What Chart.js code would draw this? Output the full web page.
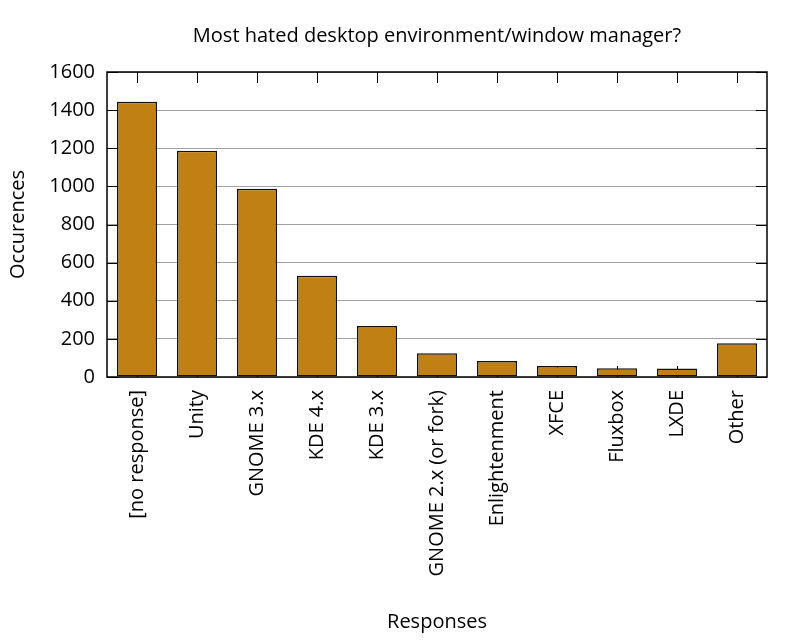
<!DOCTYPE html>
<html>
<head>
<meta charset="utf-8">
<script src="https://cdn.jsdelivr.net/npm/chart.js@4/dist/chart.umd.min.js"></script>
<style>
    html, body { margin: 0; padding: 0; background: #fff; }
</style>
</head>
<body>
<canvas id="chart" width="800" height="640"></canvas>
<script>
const categories = ['[no response]', 'Unity', 'GNOME 3.x', 'KDE 4.x', 'KDE 3.x', 'GNOME 2.x (or fork)', 'Enlightenment', 'XFCE', 'Fluxbox', 'LXDE', 'Other'];
const occurences = [1444, 1187, 988, 531, 268, 124, 84, 58, 46, 44, 177];
const yMin = 0;
const yMax = 1600;
const yStep = 200;

const fontFamily = '"Open Sans", sans-serif';
const fontSize = 20;
const tickLen = 11;

// gnuplot-style inward ticks on all four sides, then the frame
const framePlugin = {
    id: 'frame',
    beforeDatasetsDraw(chart) {
        const { ctx, chartArea: a, scales: { x, y } } = chart;
        ctx.save();
        ctx.strokeStyle = '#000';
        ctx.lineWidth = 1;
        ctx.beginPath();
        y.ticks.forEach((t, i) => {
            const py = Math.round(y.getPixelForTick(i)) + 0.5;
            ctx.moveTo(a.left, py);
            ctx.lineTo(a.left + tickLen, py);
            ctx.moveTo(a.right, py);
            ctx.lineTo(a.right - tickLen, py);
        });
        x.ticks.forEach((t, i) => {
            const px = Math.round(x.getPixelForTick(i)) + 0.5;
            ctx.moveTo(px, a.top);
            ctx.lineTo(px, a.top + tickLen);
            ctx.moveTo(px, a.bottom);
            ctx.lineTo(px, a.bottom - tickLen);
        });
        ctx.stroke();
        ctx.restore();
    },
    afterDatasetsDraw(chart) {
        const { ctx, chartArea: a } = chart;
        ctx.save();
        ctx.strokeStyle = '#000';
        ctx.lineWidth = 1.5;
        ctx.strokeRect(a.left, a.top, a.right - a.left, a.bottom - a.top);
        ctx.restore();
    },
};

new Chart(document.getElementById('chart'), {
    type: 'bar',
    data: {
        labels: categories,
        datasets: [
            {
                label: 'Occurences',
                data: occurences,
                backgroundColor: '#c08014',
                borderColor: '#111',
                borderWidth: 1.5,
                borderSkipped: false,
                barPercentage: 0.667,
                categoryPercentage: 1,
            },
        ],
    },
    options: {
        responsive: false,
        animation: false,
        devicePixelRatio: 1,
        layout: {
            padding: { left: 0, right: 33, top: 0, bottom: 0 },
        },
        plugins: {
            legend: { display: false },
            tooltip: { enabled: false },
            title: {
                display: true,
                text: 'Most hated desktop environment/window manager?',
                fullSize: false,
                color: '#000',
                font: { family: fontFamily, size: fontSize, weight: 'normal' },
                padding: { top: 24, bottom: 24 },
            },
        },
        scales: {
            x: {
                grid: { display: false },
                border: { display: false },
                ticks: {
                    color: '#000',
                    font: { family: fontFamily, size: fontSize },
                    minRotation: 90,
                    maxRotation: 90,
                    autoSkip: false,
                    padding: 5,
                },
                title: {
                    display: true,
                    text: 'Responses',
                    color: '#000',
                    font: { family: fontFamily, size: fontSize },
                    padding: { top: 0, bottom: 6 },
                },
                afterFit(scale) {
                    scale.height = 263;
                },
            },
            y: {
                min: yMin,
                max: yMax,
                grid: {
                    color: '#a0a0a0',
                    lineWidth: 1,
                    drawTicks: false,
                },
                border: { display: false },
                ticks: {
                    stepSize: yStep,
                    color: '#000',
                    font: { family: fontFamily, size: fontSize },
                    padding: 12,
                    callback: (v) => String(v),
                },
                title: {
                    display: true,
                    text: 'Occurences',
                    color: '#000',
                    font: { family: fontFamily, size: fontSize },
                    padding: { top: 6, bottom: 0 },
                },
                afterFit(scale) {
                    scale.width = 107;
                },
            },
        },
    },
    plugins: [framePlugin],
});
</script>
</body>
</html>
